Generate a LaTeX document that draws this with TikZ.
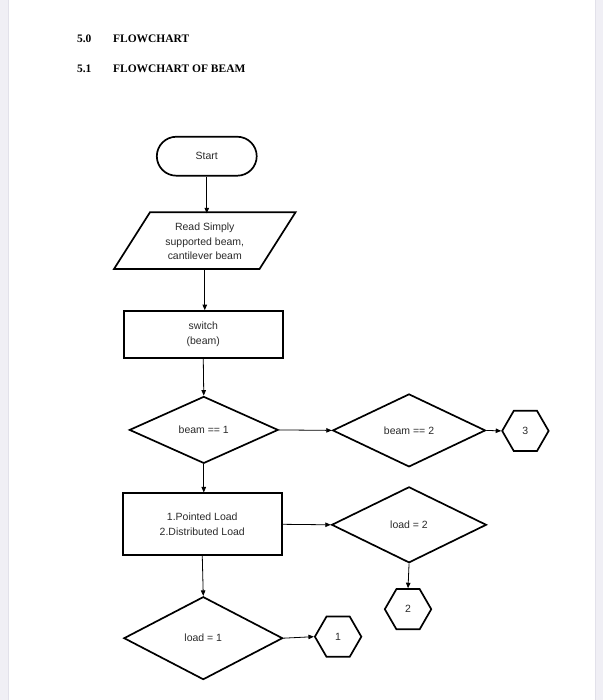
\documentclass[tikz,border=0pt]{standalone}
\usepackage{fontspec}
\setmainfont{Liberation Serif}
\newfontfamily\arialf{Liberation Sans}
\usetikzlibrary{shapes.geometric,shapes.misc,arrows.meta,calc}
\definecolor{pagegrey}{HTML}{F0EFF5}
\definecolor{pageedge}{HTML}{E2E1EA}
\definecolor{txtgrey}{HTML}{2A2A2A}
\begin{document}
\begin{tikzpicture}[x=1pt,y=-1pt,
  box/.style={draw=black,line width=1.7pt,inner sep=0pt,font=\arialf\fontsize{10.5}{14.5}\selectfont,text=txtgrey,align=center},
  dia/.style={box,diamond},
  hexa/.style={box,regular polygon,regular polygon sides=6,minimum size=46.5pt},
  conn/.style={draw=black,line width=0.8pt,-{Triangle[length=5.5pt,width=4.5pt]}},
  head/.style={font=\bfseries\fontsize{11.5}{13}\selectfont,inner sep=0pt,anchor=base west}
]
% page background
\fill[pagegrey] (0,0) rectangle (604,700);
\fill[white] (8,0) rectangle (596,700);
\draw[pageedge,line width=0.8pt] (8,0) -- (8,700);
\draw[pageedge,line width=0.8pt] (596,0) -- (596,700);
\useasboundingbox (0,0) rectangle (604,700);

% headings
\node[head] (h0n) at (77,42) {5.0};
\node[head] (h0t) at (113,42) {FLOWCHART};
\node[head] (h1n) at (77,72) {5.1};
\node[head] (h1t) at (113,72) {FLOWCHART OF BEAM};

% start
\node[box,rounded rectangle,minimum width=100pt,minimum height=39pt] (start) at (207,156) {Start};

% parallelogram (read)
\node[box,draw=none,minimum width=144pt,minimum height=55pt] (read) at (205,241.5)
  {Read Simply\\supported beam,\\cantilever beam};
\draw[line width=1.7pt,line join=miter]
  ([xshift=18pt,yshift=1pt]read.north west) -- ([xshift=18pt,yshift=1pt]read.north east)
  -- ([xshift=-18pt,yshift=1pt]read.south east) -- ([xshift=-18pt,yshift=1pt]read.south west) -- cycle;

% switch
\node[box,minimum width=159pt,minimum height=47pt] (sw) at (203.5,334.5) {switch\\(beam)};

% decisions
\node[dia,minimum width=149pt,minimum height=67pt] (d1) at (204,430) {beam == 1};
\node[dia,minimum width=153pt,minimum height=73pt] (d2) at (409.5,430.5) {beam == 2};
\node[hexa] (hex3) at (526,431) {3};

\node[box,minimum width=159pt,minimum height=62pt] (r2) at (202.5,524.5) {1.Pointed Load\\2.Distributed Load};
\node[dia,minimum width=155pt,minimum height=76pt] (d3) at (409.5,525) {load = 2};
\node[hexa] (hex2) at (408.5,609.5) {2};

\node[dia,minimum width=159pt,minimum height=83pt] (d4) at (203.5,638.5) {load = 1};
\node[hexa] (hex1) at (338.5,637) {1};

% connectors
\draw[conn] (start.south) -- (start.south |- read.north);
\draw[conn] (read.south) -- (read.south |- sw.north);
\draw[conn] (sw.south) -- (d1.north);
\draw[conn] (d1.east) -- (d2.west);
\draw[conn] (d2.east) -- (hex3.west);
\draw[conn] (d1.south) -- (d1.south |- r2.north);
\draw[conn] (r2.east) -- (d3.west);
\draw[conn] (d3.south) -- (hex2.north);
\draw[conn] (r2.south) -- (d4.north);
\draw[conn] (d4.east) -- (hex1.west);
\end{tikzpicture}
\end{document}
